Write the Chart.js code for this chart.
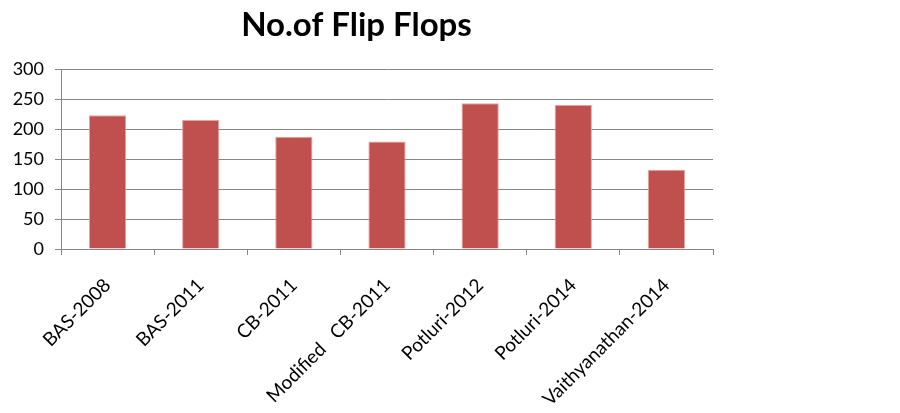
<!DOCTYPE html>
<html>
<head>
<meta charset="utf-8">
<script src="https://cdn.jsdelivr.net/npm/chart.js@4.4.1/dist/chart.umd.min.js"></script>
<style>
  html, body { margin: 0; padding: 0; background: #fff; }
  #wrap { position: relative; width: 724px; height: 413px; }
</style>
</head>
<body>
<div id="wrap"><canvas id="c"></canvas></div>
<script>
const titleText = "No.of Flip Flops";
const categories = ["BAS-2008", "BAS-2011", "CB-2011", "Modified   CB-2011", "Potluri-2012", "Potluri-2014", "Vaithyanathan-2014"];
const flipFlops = [223, 215, 187, 179, 243, 240, 132];
const yTicks = [0, 50, 100, 150, 200, 250, 300];

const FONT = "Lato, 'Open Sans', sans-serif";

new Chart(document.getElementById('c'), {
  type: 'bar',
  data: {
    labels: categories,
    datasets: [{
      label: titleText,
      data: flipFlops,
      backgroundColor: '#C0504D',
      borderColor: '#E3A3A1',
      borderWidth: 1,
      barPercentage: 0.4,
      categoryPercentage: 1.0
    }]
  },
  options: {
    responsive: true,
    maintainAspectRatio: false,
    animation: false,
    layout: { padding: { left: 0, right: 11, top: 0, bottom: 0 } },
    plugins: {
      legend: { display: false },
      tooltip: { enabled: false },
      title: {
        display: true,
        text: titleText,
        color: '#000',
        font: { family: FONT, size: 33, weight: 'bold', lineHeight: 1.2 },
        padding: { top: 6, bottom: 23.4 }
      }
    },
    scales: {
      x: {
        offset: true,
        grid: {
          offset: true,
          drawOnChartArea: false,
          drawTicks: true,
          tickLength: 6,
          color: '#878787'
        },
        border: { display: true, color: '#878787', width: 1 },
        ticks: {
          color: '#000',
          font: { family: FONT, size: 19 },
          maxRotation: 45,
          minRotation: 45,
          padding: 19,
          autoSkip: false
        },
        afterFit: s => { s.height = 164; s.paddingLeft = 0; s.paddingRight = 0; }
      },
      y: {
        min: 0,
        max: 300,
        afterBuildTicks: s => { s.ticks = yTicks.map(v => ({ value: v })); },
        grid: {
          color: '#878787',
          lineWidth: 1,
          drawTicks: true,
          tickLength: 6
        },
        border: { display: true, color: '#878787', width: 1 },
        ticks: {
          color: '#000',
          font: { family: FONT, size: 18 },
          padding: 11
        },
        afterFit: s => { s.width = 61; }
      }
    }
  }
});
</script>
</body>
</html>
